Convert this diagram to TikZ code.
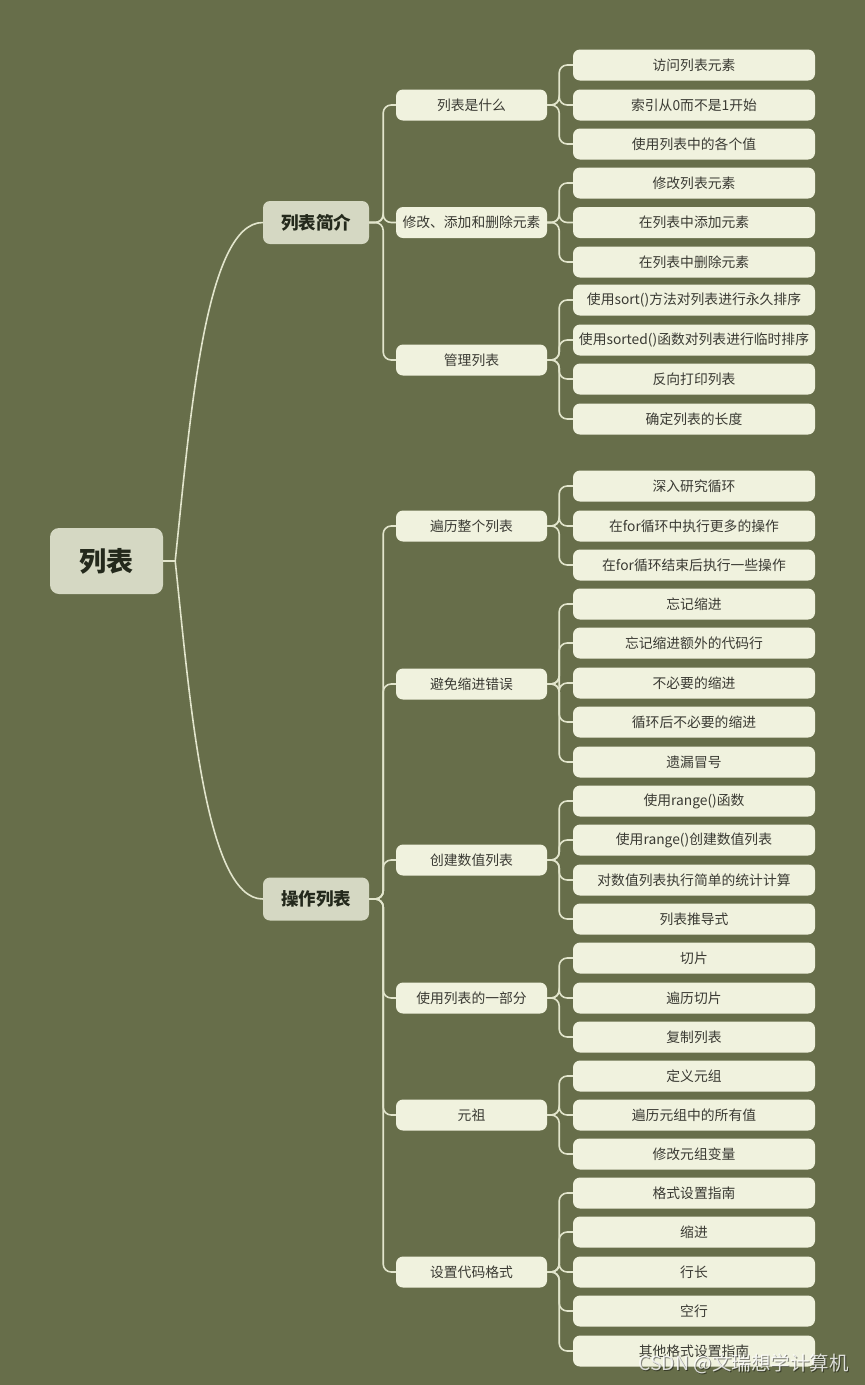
\documentclass[tikz,border=0pt]{standalone}
\usepackage{fontspec}
\newfontfamily\cjk{Noto Sans CJK SC}
\definecolor{bg}{HTML}{676E4A}
\definecolor{leaf}{HTML}{F0F2DE}
\definecolor{mid}{HTML}{D5D8C3}
\definecolor{wire}{HTML}{E2E5CC}
\definecolor{ink}{HTML}{3A3A33}
\definecolor{dark}{HTML}{24291C}
\tikzset{
  leafbox/.style={draw=none,fill=leaf,rounded corners=7pt,minimum width=242pt,minimum height=31pt,inner sep=0pt,text=ink,font=\cjk\fontsize{13.8pt}{16pt}\selectfont},
  subbox/.style={draw=none,fill=leaf,rounded corners=7pt,minimum width=151pt,minimum height=31pt,inner sep=0pt,text=ink,font=\cjk\fontsize{13.8pt}{16pt}\selectfont},
  topbox/.style={draw=none,fill=mid,rounded corners=7pt,minimum width=106pt,minimum height=43pt,inner sep=0pt,text=dark,font=\cjk\bfseries\fontsize{17.5pt}{20pt}\selectfont},
  rootbox/.style={draw=none,fill=mid,rounded corners=9pt,minimum width=113pt,minimum height=66pt,inner sep=0pt,text=dark,font=\cjk\bfseries\fontsize{27pt}{30pt}\selectfont},
  conn/.style={draw=wire,line width=1.6pt,rounded corners=8pt},
  curv/.style={draw=wire,line width=1.6pt},
  wmark/.style={font=\cjk\fontsize{19.5pt}{22pt}\selectfont,anchor=east,inner sep=0pt}
}
\begin{document}
\begin{tikzpicture}[x=1pt,y=-1pt]
\fill[bg] (0,0) rectangle (865,1385);
\useasboundingbox (0,0) rectangle (865,1385);

\node[rootbox] (root) at (106.5,561) {列表};
\node[topbox] (t1) at (316,222.5) {列表简介};
\node[topbox] (t2) at (316,899) {操作列表};

% level 2
\node[subbox] (a1) at (471.5,105) {列表是什么};
\node[subbox] (a2) at (471.5,222.5) {修改、添加和删除元素};
\node[subbox] (a3) at (471.5,360) {管理列表};
\node[subbox] (b1) at (471.5,526) {遍历整个列表};
\node[subbox] (b2) at (471.5,684) {避免缩进错误};
\node[subbox] (b3) at (471.5,860) {创建数值列表};
\node[subbox] (b4) at (471.5,998) {使用列表的一部分};
\node[subbox] (b5) at (471.5,1115) {元祖};
\node[subbox] (b6) at (471.5,1272) {设置代码格式};

% level 3
\node[leafbox] (a11) at (694,65) {访问列表元素};
\node[leafbox] (a12) at (694,105) {索引从0而不是1开始};
\node[leafbox] (a13) at (694,144) {使用列表中的各个值};
\node[leafbox] (a21) at (694,183) {修改列表元素};
\node[leafbox] (a22) at (694,222.5) {在列表中添加元素};
\node[leafbox] (a23) at (694,262) {在列表中删除元素};
\node[leafbox] (a31) at (694,300) {使用sort()方法对列表进行永久排序};
\node[leafbox] (a32) at (694,340) {使用sorted()函数对列表进行临时排序};
\node[leafbox] (a33) at (694,379) {反向打印列表};
\node[leafbox] (a34) at (694,419) {确定列表的长度};

\node[leafbox] (b11) at (694,486) {深入研究循环};
\node[leafbox] (b12) at (694,526) {在for循环中执行更多的操作};
\node[leafbox] (b13) at (694,565) {在for循环结束后执行一些操作};
\node[leafbox] (b21) at (694,604) {忘记缩进};
\node[leafbox] (b22) at (694,643) {忘记缩进额外的代码行};
\node[leafbox] (b23) at (694,683) {不必要的缩进};
\node[leafbox] (b24) at (694,722) {循环后不必要的缩进};
\node[leafbox] (b25) at (694,762) {遗漏冒号};
\node[leafbox] (b31) at (694,801) {使用range()函数};
\node[leafbox] (b32) at (694,840) {使用range()创建数值列表};
\node[leafbox] (b33) at (694,880) {对数值列表执行简单的统计计算};
\node[leafbox] (b34) at (694,919) {列表推导式};
\node[leafbox] (b41) at (694,958) {切片};
\node[leafbox] (b42) at (694,998) {遍历切片};
\node[leafbox] (b43) at (694,1037) {复制列表};
\node[leafbox] (b51) at (694,1076) {定义元组};
\node[leafbox] (b52) at (694,1115) {遍历元组中的所有值};
\node[leafbox] (b53) at (694,1154) {修改元组变量};
\node[leafbox] (b61) at (694,1193) {格式设置指南};
\node[leafbox] (b62) at (694,1232) {缩进};
\node[leafbox] (b63) at (694,1272) {行长};
\node[leafbox] (b64) at (694,1311) {空行};
\node[leafbox] (b65) at (694,1351) {其他格式设置指南};

% root connectors
\draw[curv] (root.east) -- ++(12,0) coordinate (rj);
\draw[curv] (rj) .. controls (190,420) and (205,222.5) .. (t1.west);
\draw[curv] (rj) .. controls (190,700) and (205,899) .. (t2.west);

% level1 -> level2
\foreach \c in {a1,a2,a3} \draw[conn] (t1.east) -- ++(14,0) |- (\c.west);
\foreach \c in {b1,b2,b3,b4,b5,b6} \draw[conn] (t2.east) -- ++(14,0) |- (\c.west);

% level2 -> level3
\foreach \p/\cs in {a1/{a11,a12,a13},a2/{a21,a22,a23},a3/{a31,a32,a33,a34},b1/{b11,b12,b13},b2/{b21,b22,b23,b24,b25},b3/{b31,b32,b33,b34},b4/{b41,b42,b43},b5/{b51,b52,b53},b6/{b61,b62,b63,b64,b65}}
  \foreach \c in \cs \draw[conn] (\p.east) -- ++(12,0) |- (\c.west);

% watermark
\node[wmark,text=black,opacity=0.45] (wms) at (849.8,1364.8) {CSDN @文瑞想学计算机};
\node[wmark,text=white,opacity=0.8] (wm) at (849,1364) {CSDN @文瑞想学计算机};
\end{tikzpicture}
\end{document}
